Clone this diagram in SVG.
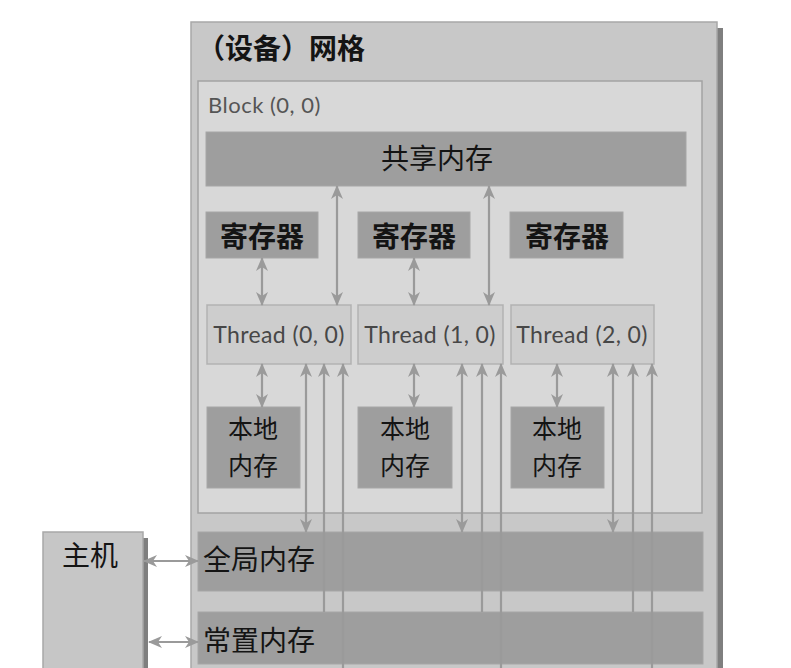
<svg xmlns="http://www.w3.org/2000/svg" width="791" height="668" viewBox="0 0 791 668">
<style>
.cjk{font-family:"Noto Sans CJK SC","Noto Sans",sans-serif;fill:#141414;font-size:28px}
.lat{font-family:Lato,"Liberation Sans",sans-serif}
.bar{fill:#9e9e9e;stroke:#a6a6a6;stroke-width:1}
.thr{fill:#cdcdcd;stroke:#b2b2b2;stroke-width:1.5}
.thrt{font-size:23px;fill:#474747;letter-spacing:0.4px}
.loc{font-size:25px}
.ln{stroke:#9a9a9a;stroke-width:2.2;fill:none}
.dbl{marker-start:url(#ah);marker-end:url(#ah)}
.up{marker-start:url(#ah)}
</style>
<defs>
<marker id="ah" viewBox="0 0 14 12" refX="13" refY="6" markerWidth="14" markerHeight="12" markerUnits="userSpaceOnUse" orient="auto-start-reverse">
<path d="M0,0 L14,6 L0,12 L4,6 z" fill="#9a9a9a"/>
</marker>
</defs>
<rect width="791" height="668" fill="#ffffff"/>
<g id="grid">
<rect x="717" y="28" width="6" height="660" fill="#7f7f7f"/>
<rect x="191" y="22" width="526" height="670" fill="#c8c8c8" stroke="#a8a8a8" stroke-width="1.5"/>
<text class="cjk" x="197" y="59" font-size="28" font-weight="bold">（设备）网格</text>
</g>
<g id="block">
<rect x="198" y="81" width="504" height="432" fill="#d8d8d8" stroke="#a3a3a3" stroke-width="1.5"/>
<text class="lat" x="208" y="113" font-size="22" fill="#555555" letter-spacing="0.5">Block (0, 0)</text>
</g>
<g id="host">
<rect x="143" y="538" width="5" height="150" fill="#7f7f7f"/>
<rect x="43" y="532" width="100" height="160" fill="#c6c6c6" stroke="#a8a8a8" stroke-width="1.5"/>
<text class="cjk" x="90" y="566" text-anchor="middle">主机</text>
</g>
<g id="shared-memory">
<rect class="bar" x="206" y="132" width="480" height="54"/>
<text class="cjk" x="437" y="169" text-anchor="middle" font-size="29">共享内存</text>
</g>
<g id="reg0">
<rect class="bar" x="206" y="212" width="112" height="46"/>
<text class="cjk" x="262" y="247" text-anchor="middle" font-weight="bold">寄存器</text>
</g>
<g id="reg1">
<rect class="bar" x="358" y="212" width="112" height="46"/>
<text class="cjk" x="414" y="247" text-anchor="middle" font-weight="bold">寄存器</text>
</g>
<g id="reg2">
<rect class="bar" x="510" y="212" width="113" height="46"/>
<text class="cjk" x="567" y="247" text-anchor="middle" font-weight="bold">寄存器</text>
</g>
<g id="thread0">
<rect class="thr" x="207" y="305" width="144" height="59"/>
<text class="lat thrt" x="279" y="343" text-anchor="middle">Thread (0, 0)</text>
</g>
<g id="thread1">
<rect class="thr" x="358" y="305" width="145" height="59"/>
<text class="lat thrt" x="430" y="343" text-anchor="middle">Thread (1, 0)</text>
</g>
<g id="thread2">
<rect class="thr" x="511" y="305" width="143" height="59"/>
<text class="lat thrt" x="582" y="343" text-anchor="middle">Thread (2, 0)</text>
</g>
<g id="local0">
<rect class="bar" x="207" y="407" width="93" height="81"/>
<text class="cjk loc" text-anchor="middle"><tspan x="253" y="438">本地</tspan><tspan x="253" y="475">内存</tspan></text>
</g>
<g id="local1">
<rect class="bar" x="358" y="407" width="94" height="81"/>
<text class="cjk loc" text-anchor="middle"><tspan x="405" y="438">本地</tspan><tspan x="405" y="475">内存</tspan></text>
</g>
<g id="local2">
<rect class="bar" x="511" y="407" width="93" height="81"/>
<text class="cjk loc" text-anchor="middle"><tspan x="557" y="438">本地</tspan><tspan x="557" y="475">内存</tspan></text>
</g>
<g id="global-memory">
<rect class="bar" x="198" y="532" width="505" height="59"/>
<text class="cjk" x="203" y="570">全局内存</text>
</g>
<g id="constant-memory">
<rect class="bar" x="198" y="612" width="505" height="52"/>
<text class="cjk" x="203" y="651">常置内存</text>
</g>
<g id="connectors">
<line class="ln dbl" x1="337" y1="186" x2="337" y2="305"/>
<line class="ln dbl" x1="489" y1="186" x2="489" y2="305"/>
<line class="ln dbl" x1="262" y1="258" x2="262" y2="305"/>
<line class="ln dbl" x1="414" y1="258" x2="414" y2="305"/>
<line class="ln dbl" x1="262" y1="364" x2="262" y2="407"/>
<line class="ln dbl" x1="414" y1="364" x2="414" y2="407"/>
<line class="ln dbl" x1="557" y1="364" x2="557" y2="407"/>
<line class="ln dbl" x1="306" y1="364" x2="306" y2="532"/>
<line class="ln up" x1="324" y1="364" x2="324" y2="612"/>
<line class="ln up" x1="343" y1="364" x2="343" y2="670"/>
<line class="ln dbl" x1="462" y1="364" x2="462" y2="532"/>
<line class="ln up" x1="482" y1="364" x2="482" y2="612"/>
<line class="ln up" x1="501" y1="364" x2="501" y2="670"/>
<line class="ln dbl" x1="613" y1="364" x2="613" y2="532"/>
<line class="ln up" x1="633" y1="364" x2="633" y2="612"/>
<line class="ln up" x1="652" y1="364" x2="652" y2="670"/>
<line class="ln dbl" x1="144" y1="561" x2="198" y2="561"/>
<line class="ln dbl" x1="149" y1="642" x2="198" y2="642"/>
</g>
</svg>
